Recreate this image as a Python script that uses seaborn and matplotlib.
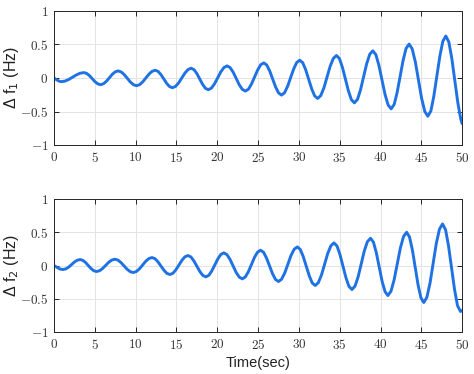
import matplotlib
matplotlib.use("Agg")
import matplotlib.pyplot as plt
import seaborn as sns
import pandas as pd

# ---- data ----
t1 = [0.0, 0.3, 0.6, 0.9,
      1.36, 1.82, 2.28, 2.74, 3.2, 3.66,
      4.0, 4.34, 4.68, 5.02, 5.36, 5.7,
      6.06, 6.42, 6.78, 7.13, 7.49, 7.85,
      8.23, 8.6, 8.98, 9.35, 9.73, 10.1,
      10.48, 10.87, 11.25, 11.63, 12.02, 12.4,
      12.75, 13.1, 13.45, 13.8, 14.15, 14.5,
      14.88, 15.27, 15.65, 16.03, 16.42, 16.8,
      17.15, 17.5, 17.85, 18.2, 18.55, 18.9,
      19.28, 19.67, 20.05, 20.43, 20.82, 21.2,
      21.57, 21.95, 22.32, 22.69, 23.07, 23.44,
      23.82, 24.19, 24.57, 24.95, 25.32, 25.7,
      26.06, 26.42, 26.79, 27.15, 27.51, 27.87,
      28.24, 28.61, 28.99, 29.36, 29.73, 30.1,
      30.47, 30.83, 31.2, 31.57, 31.93, 32.3,
      32.68, 33.07, 33.45, 33.83, 34.22, 34.6,
      34.97, 35.33, 35.7, 36.07, 36.43, 36.8,
      37.18, 37.55, 37.93, 38.3, 38.68, 39.05,
      39.43, 39.8, 40.18, 40.55, 40.93, 41.3,
      41.67, 42.03, 42.4, 42.77, 43.13, 43.5,
      43.88, 44.27, 44.65, 45.03, 45.42, 45.8,
      46.17, 46.53, 46.9, 47.27, 47.63, 48.0,
      48.37, 48.73, 49.1, 49.47, 49.83, 50.0]
df1 = [0.0, -0.025, -0.047, -0.055,
       -0.046, -0.021, 0.0125, 0.046, 0.071, 0.08,
       0.068, 0.035, -0.01, -0.055, -0.088, -0.10,
       -0.086, -0.049, 0.003, 0.054, 0.091, 0.105,
       0.090, 0.050, -0.005, -0.060, -0.100, -0.115,
       -0.0996, -0.0575, 0.0, 0.0575, 0.0996, 0.115,
       0.098, 0.050, -0.015, -0.080, -0.128, -0.145,
       -0.126, -0.0725, 0.0, 0.0725, 0.126, 0.145,
       0.124, 0.065, -0.015, -0.095, -0.154, -0.175,
       -0.151, -0.086, 0.003, 0.091, 0.156, 0.18,
       0.155, 0.086, -0.008, -0.101, -0.170, -0.195,
       -0.167, -0.090, 0.015, 0.120, 0.197, 0.225,
       0.193, 0.105, -0.015, -0.135, -0.223, -0.255,
       -0.220, -0.125, 0.005, 0.135, 0.230, 0.265,
       0.227, 0.123, -0.02, -0.163, -0.267, -0.305,
       -0.262, -0.145, 0.015, 0.175, 0.292, 0.335,
       0.288, 0.159, -0.018, -0.194, -0.323, -0.37,
       -0.318, -0.176, 0.018, 0.211, 0.353, 0.405,
       0.347, 0.189, -0.028, -0.244, -0.402, -0.46,
       -0.395, -0.219, 0.023, 0.264, 0.440, 0.505,
       0.433, 0.236, -0.033, -0.301, -0.498, -0.57,
       -0.490, -0.271, 0.028, 0.326, 0.545, 0.625,
       0.536, 0.294, -0.038, -0.369, -0.611, -0.68]

t2 = [0.0, 0.37, 0.73, 1.1,
      1.45, 1.8, 2.15, 2.5, 2.85, 3.2,
      3.53, 3.87, 4.2, 4.53, 4.87, 5.2,
      5.58, 5.95, 6.33, 6.7, 7.08, 7.45,
      7.83, 8.2, 8.58, 8.95, 9.33, 9.7,
      10.08, 10.47, 10.85, 11.23, 11.62, 12.0,
      12.37, 12.73, 13.1, 13.47, 13.83, 14.2,
      14.57, 14.93, 15.3, 15.67, 16.03, 16.4,
      16.77, 17.13, 17.5, 17.87, 18.23, 18.6,
      18.97, 19.33, 19.7, 20.07, 20.43, 20.8,
      21.18, 21.56, 21.94, 22.31, 22.69, 23.07,
      23.44, 23.81, 24.19, 24.56, 24.93, 25.3,
      25.67, 26.03, 26.4, 26.77, 27.13, 27.5,
      27.88, 28.27, 28.65, 29.03, 29.42, 29.8,
      30.17, 30.53, 30.9, 31.27, 31.63, 32.0,
      32.38, 32.77, 33.15, 33.53, 33.92, 34.3,
      34.67, 35.03, 35.4, 35.77, 36.13, 36.5,
      36.88, 37.26, 37.64, 38.01, 38.39, 38.77,
      39.13, 39.48, 39.84, 40.19, 40.55, 40.9,
      41.28, 41.67, 42.05, 42.43, 42.82, 43.2,
      43.55, 43.9, 44.25, 44.6, 44.95, 45.3,
      45.68, 46.07, 46.45, 46.83, 47.22, 47.6,
      47.97, 48.33, 48.7, 49.07, 49.43, 49.8, 50.0]
df2 = [0.0, -0.028, -0.052, -0.06,
       -0.050, -0.023, 0.015, 0.053, 0.080, 0.09,
       0.078, 0.045, 0.0, -0.045, -0.078, -0.09,
       -0.078, -0.044, 0.003, 0.049, 0.083, 0.095,
       0.082, 0.045, -0.005, -0.055, -0.092, -0.105,
       -0.090, -0.049, 0.008, 0.064, 0.105, 0.12,
       0.103, 0.056, -0.008, -0.071, -0.118, -0.135,
       -0.116, -0.064, 0.008, 0.079, 0.131, 0.15,
       0.129, 0.070, -0.01, -0.090, -0.149, -0.17,
       -0.146, -0.080, 0.01, 0.100, 0.166, 0.19,
       0.164, 0.093, -0.005, -0.103, -0.174, -0.20,
       -0.171, -0.093, 0.015, 0.123, 0.201, 0.23,
       0.199, 0.113, -0.005, -0.123, -0.209, -0.24,
       -0.205, -0.110, 0.02, 0.150, 0.245, 0.28,
       0.241, 0.135, -0.01, -0.155, -0.261, -0.30,
       -0.257, -0.140, 0.02, 0.180, 0.297, 0.34,
       0.293, 0.165, -0.01, -0.185, -0.313, -0.36,
       -0.308, -0.168, 0.025, 0.218, 0.358, 0.41,
       0.352, 0.195, -0.02, -0.235, -0.392, -0.45,
       -0.386, -0.213, 0.025, 0.263, 0.436, 0.50,
       0.429, 0.236, -0.028, -0.291, -0.484, -0.555,
       -0.476, -0.260, 0.035, 0.330, 0.546, 0.625,
       0.537, 0.296, -0.033, -0.361, -0.602, -0.69, -0.675]

x_ticks = [0, 5, 10, 15, 20, 25, 30, 35, 40, 45, 50]
x_tick_labels = ["0", "5", "10", "15", "20", "25", "30", "35", "40", "45", "50"]
y_ticks = [-1, -0.5, 0, 0.5, 1]
y_tick_labels = ["$-1$", "$-0.5$", "$0$", "$0.5$", "$1$"]
y_labels = ["Δ f$_1$ (Hz)", "Δ f$_2$ (Hz)"]
x_label = "Time(sec)"

# ---- styling ----
sns.set_theme(style="whitegrid")
plt.rcParams["font.family"] = ["Liberation Sans", "DejaVu Sans"]

line_color = "#1f72e3"
fig = plt.figure(figsize=(4.74, 3.74), dpi=100)
ax1 = fig.add_axes([0.114, 0.612, 0.861, 0.359])
ax2 = fig.add_axes([0.114, 0.112, 0.861, 0.356])

for ax, t, v, yl in [(ax1, t1, df1, y_labels[0]), (ax2, t2, df2, y_labels[1])]:
    data = pd.DataFrame({"t": t, "v": v})
    sns.lineplot(data=data, x="t", y="v", ax=ax, color=line_color,
                 linewidth=2.1, sort=False, estimator=None)
    ax.set_xlim(0, 50)
    ax.set_ylim(-1, 1)
    ax.set_xticks(x_ticks)
    ax.set_yticks(y_ticks)
    ax.set_xticklabels(["$" + s + "$" for s in x_tick_labels])
    ax.set_yticklabels(y_tick_labels)
    for lab in ax.get_xticklabels() + ax.get_yticklabels():
        lab.set_math_fontfamily("cm")
        lab.set_fontsize(9.5)
        lab.set_color("#333333")
    ax.set_facecolor("white")
    ax.grid(True, color="#e3e3e3", linewidth=0.7)
    for sp in ax.spines.values():
        sp.set_visible(True)
        sp.set_color("#262626")
        sp.set_linewidth(0.7)
    ax.tick_params(direction="in", length=3.5, width=0.7, color="#262626",
                   top=True, right=True, bottom=True, left=True, pad=4)
    ax.set_ylabel(yl, fontsize=11.5, color="#222222", labelpad=-1,
                  math_fontfamily="dejavusans")
    ax.set_xlabel("")

ax2.set_xlabel(x_label, fontsize=10.5, color="#222222", labelpad=3)

fig.savefig("out.png", dpi=100, facecolor="white")
